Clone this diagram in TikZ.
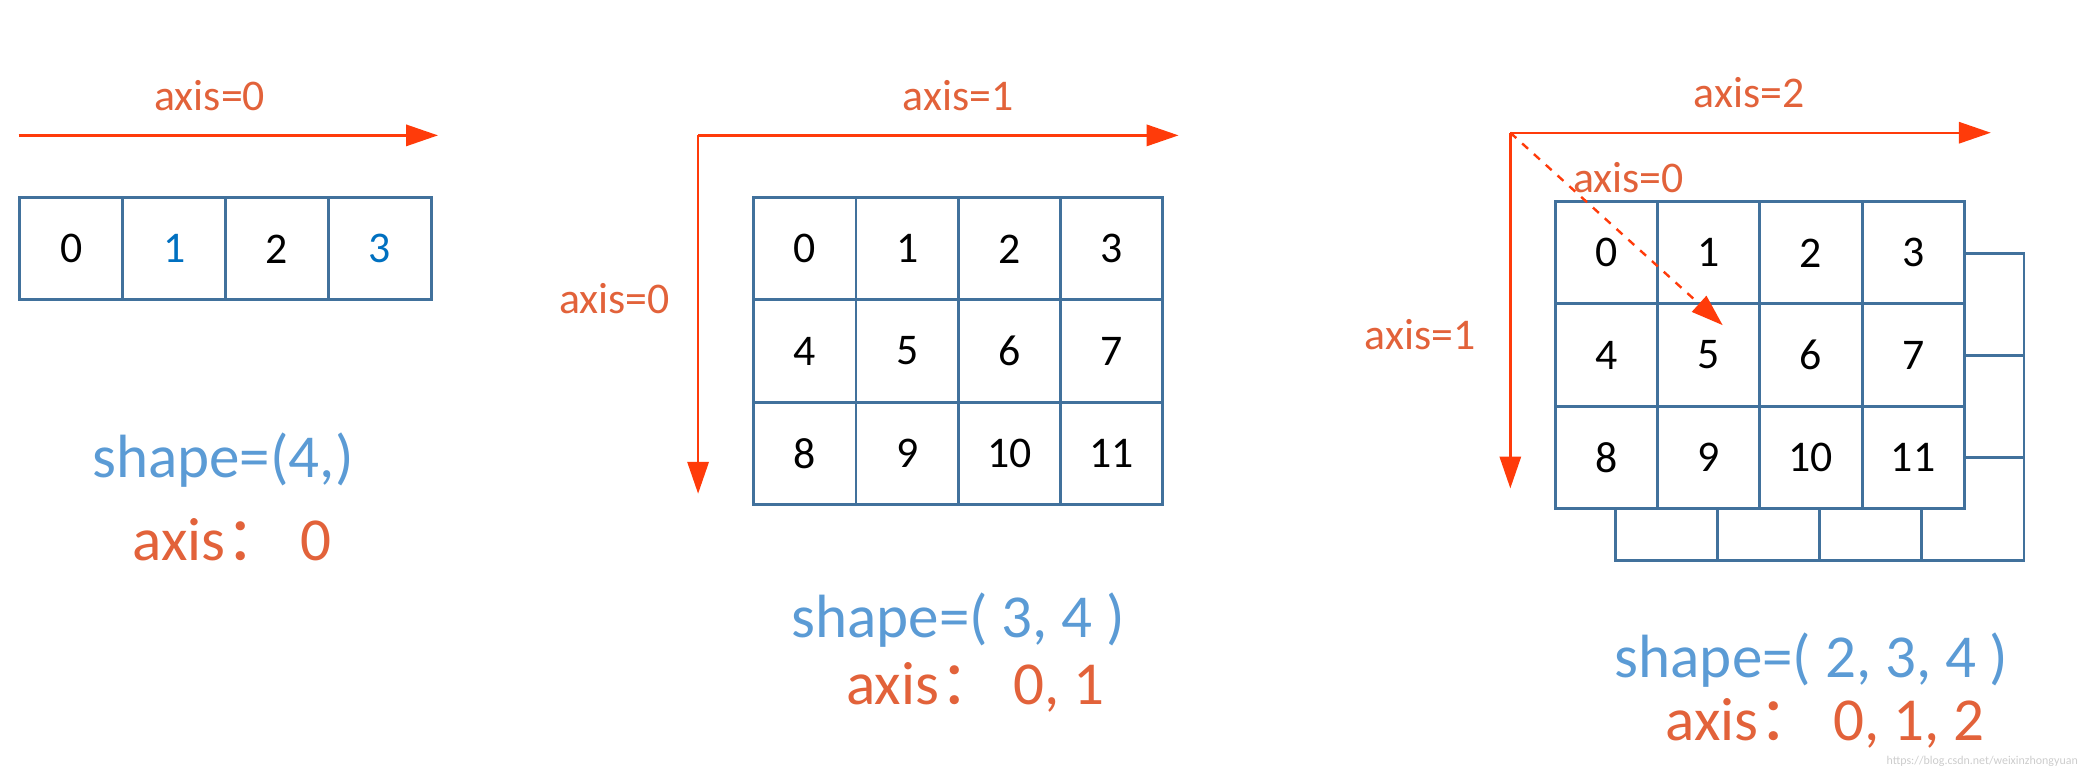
\documentclass[tikz,border=0pt]{standalone}
\usepackage{fontspec}
\setmainfont{Carlito}
\newfontfamily\cjk{Noto Sans CJK SC}
\usetikzlibrary{arrows.meta}
\definecolor{gridc}{HTML}{41719C}
\definecolor{arr}{HTML}{FF3B0A}
\definecolor{lab}{HTML}{E2623A}
\definecolor{shp}{HTML}{5B9BD5}
\definecolor{dblue}{HTML}{0070C0}
\begin{document}
\begin{tikzpicture}[x=0.5pt,y=-0.5pt,
  cell/.style={draw=gridc,line width=1.1pt,fill=white,minimum width=38.5pt,minimum height=38.5pt,inner sep=0pt,font=\fontsize{16.5}{19}\selectfont},
  axarrow/.style={arr,line width=0.9pt,-{Triangle[length=12pt,width=8pt]}},
  axlab/.style={lab,font=\fontsize{16.5}{19}\selectfont},
  shapelab/.style={shp,font=\fontsize{23}{27}\selectfont},
  axislab/.style={lab,font=\fontsize{23}{27}\selectfont}]
\useasboundingbox (0,0) rectangle (1568,580);
% left
\coordinate (l0) at (14,102); \coordinate (l1) at (330,102);
\draw[axarrow] (l0) -- (l1);
\node[axlab] (la) at (158,72) {axis=0};
\foreach \i/\t/\c in {0/0/black,1/1/dblue,2/2/black,3/3/dblue}
  \node[cell,text=\c,minimum width=38.75pt] (L\i) at (15+38.75+77.5*\i,187.5) {\t};
\node[shapelab] (ls) at (168,347) {shape=(4,)};
\node[axislab] (lx) at (175,407) {axis{\cjk ：} 0};
% middle
\foreach \r in {0,1,2} \foreach \c in {0,1,2,3}{
  \pgfmathtruncatemacro\n{\r*4+\c}
  \node[cell] (M\n) at (568+38.5+77*\c,149+38.5+77*\r) {\n};}
\coordinate (mo) at (526,102); \coordinate (mx) at (888,102); \coordinate (my) at (526,372);
\draw[axarrow] (mo) -- (mx);
\draw[axarrow] (mo) -- (my);
\node[axlab] (ma1) at (722,72) {axis=1};
\node[axlab] (ma0) at (463,225) {axis=0};
\node[shapelab] (ms) at (722,467) {shape=( 3, 4 )};
\node[axislab] (mx2) at (735,518) {axis{\cjk ：} 0, 1};
% right back grid
\foreach \r in {0,1,2} \foreach \c in {0,1,2,3}
  \node[cell] (B\r\c) at (1217+38.5+77*\c,191+38.5+77*\r) {};
\foreach \r in {0,1,2} \foreach \c in {0,1,2,3}{
  \pgfmathtruncatemacro\n{\r*4+\c}
  \node[cell] (R\n) at (1172+38.5+77*\c,152+38.5+77*\r) {\n};}
\coordinate (ro) at (1138,100); \coordinate (rx) at (1500,100); \coordinate (ry) at (1138,368); \coordinate (rz) at (1298,245);
\draw[axarrow] (ro) -- (rx);
\draw[axarrow] (ro) -- (ry);
\draw[axarrow,dashed] (ro) -- (rz);
\node[axlab] (ra2) at (1318,70) {axis=2};
\node[axlab] (ra1) at (1070,252) {axis=1};
\node[axlab] (ra0) at (1227,134) {axis=0};
\node[shapelab] (rs) at (1365,497) {shape=( 2, 3, 4 )};
\node[axislab] (rx2) at (1375,545) {axis{\cjk ：} 0, 1, 2};
\node[gray!40,font=\fontsize{4.5}{5}\selectfont,anchor=south east,inner sep=1pt] (wm) at (1568,580) {https://blog.csdn.net/weixinzhongyuan};
\end{tikzpicture}
\end{document}
